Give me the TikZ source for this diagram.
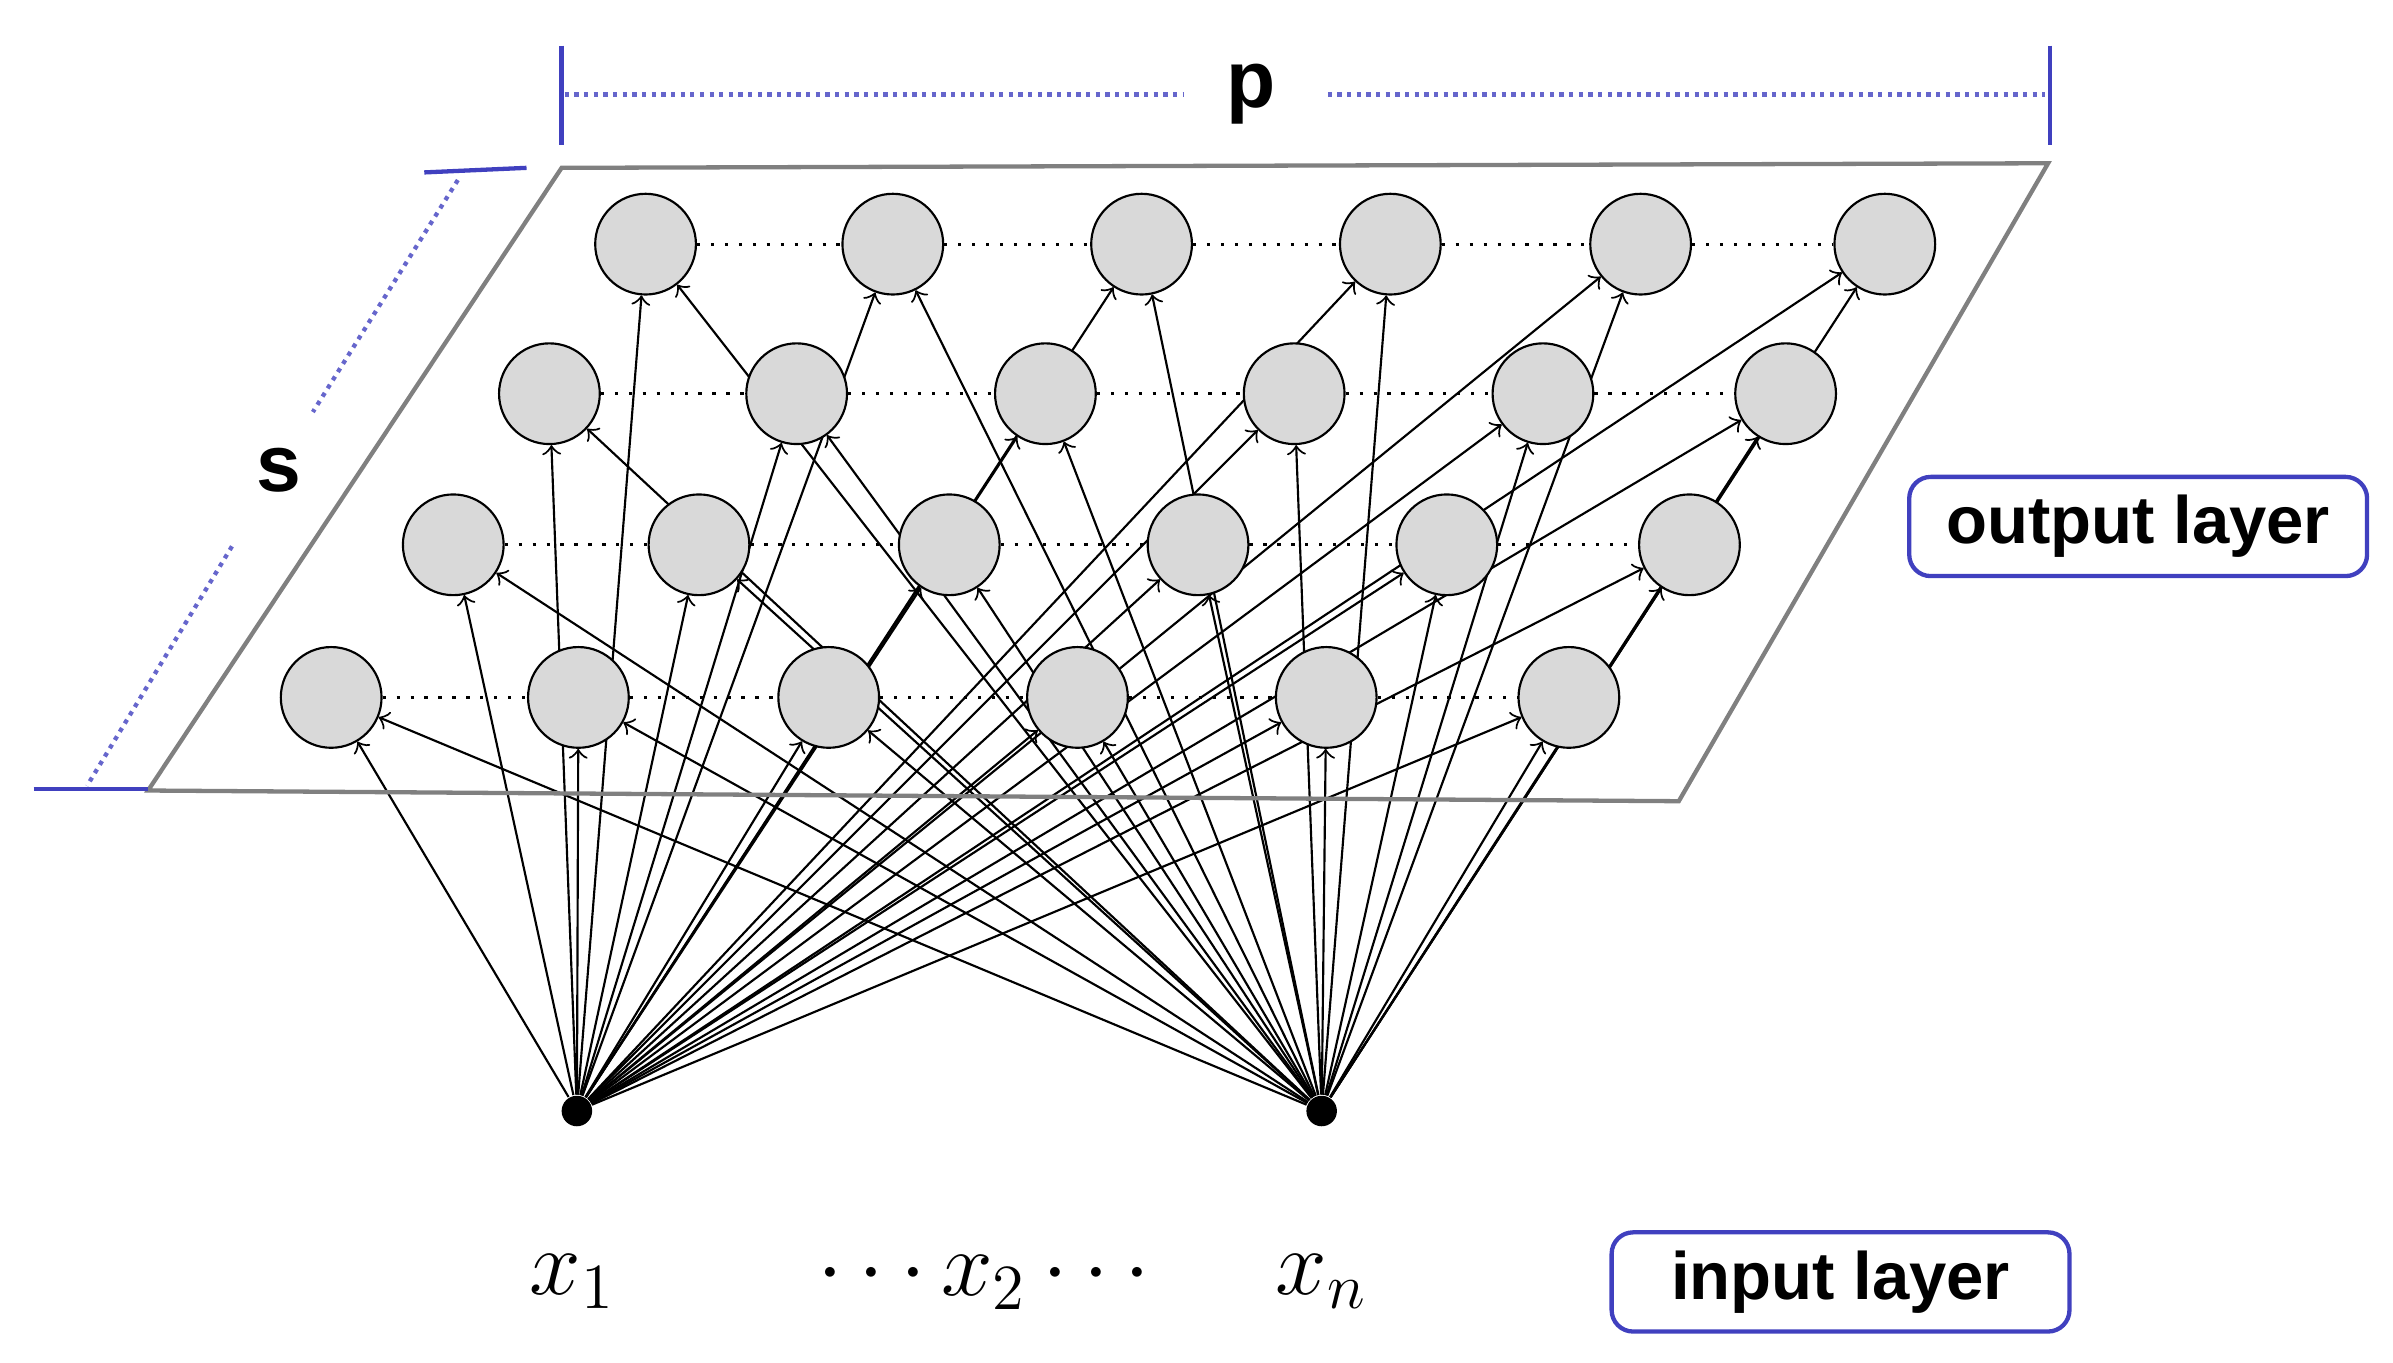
\documentclass[tikz,border=0pt]{standalone}
\usepackage{fontspec}
\setmainfont{Liberation Sans}
\usepackage{amsmath}
\usetikzlibrary{backgrounds}
\begin{document}
\begin{tikzpicture}[x=1cm,y=1cm,
	neuron/.style={circle, draw, fill=gray!30, minimum size=0.66cm, inner sep=0pt},
	inp/.style={circle, fill=black, minimum size=0.2cm, inner sep=0pt},
	lbox/.style={draw=blue!50!gray, rounded corners=4pt, thick, minimum width=3cm, minimum height=0.65cm, font=\bfseries\fontsize{12.5}{14}\selectfont},
	dim/.style={blue!50!gray!80, densely dotted, thick}]
	\useasboundingbox (0,0) rectangle (15.68,8.93);
	% plane
	\draw[gray, thick] (3.68,7.83)--(13.42,7.86)--(11.00,3.68)--(0.97,3.75)--cycle;
	% neurons, row by row
	\foreach \r/\y/\xs in {1/7.33/{4.23,5.85,7.48,9.11,10.75,12.35},
		2/6.35/{3.60,5.22,6.85,8.48,10.11,11.70},
		3/5.36/{2.97,4.58,6.22,7.85,9.48,11.07},
		4/4.36/{2.17,3.79,5.43,7.06,8.69,10.28}}{
		\foreach \x [count=\c] in \xs
			\node[neuron] (n-\r-\c) at (\x,\y) {};
	}
	% inputs
	\node[inp] (x1) at (3.78,1.65) {};
	\node[inp] (xn) at (8.66,1.65) {};
	\begin{scope}[on background layer]
	\foreach \r in {1,...,4}
		\foreach \a/\b in {1/2,2/3,3/4,4/5,5/6}
			\draw[dotted, semithick] (n-\r-\a) -- (n-\r-\b);
	\foreach \r in {1,...,4}
		\foreach \c in {1,...,6}{
			\draw[->, thin] (x1) -- (n-\r-\c);
			\draw[->, thin] (xn) -- (n-\r-\c);
		}
	\end{scope}
	\node (l1) at (3.75,0.53) {\fontsize{18}{20}\selectfont$x_1$};
	\node (l2) at (6.5,0.53) {\fontsize{18}{20}\selectfont$\cdots x_2\cdots$};
	\node (ln) at (8.66,0.53) {\fontsize{18}{20}\selectfont$x_n$};
	% labels
	\node[lbox] (out) at (14.01,5.48) {output layer};
	\node[lbox] (in) at (12.06,0.53) {input layer};
	% p dimension
	\draw[blue!50!gray, thick] (3.68,8.63)--(3.68,7.98);
	\draw[blue!50!gray, thick] (13.43,8.63)--(13.43,7.98);
	\node[font=\bfseries\fontsize{15}{17}\selectfont] (p) at (8.2,8.31) {p};
	\draw[dim] (3.70,8.31)--(7.75,8.31);
	\draw[dim] (8.70,8.31)--(13.40,8.31);
	% s dimension
	\draw[blue!50!gray, thick] (2.78,7.80)--(3.45,7.83);
	\draw[blue!50!gray, thick] (0.22,3.76)--(0.97,3.76);
	\node[font=\bfseries\fontsize{15}{17}\selectfont] (s) at (1.83,5.85) {s};
	\draw[dim] (3.00,7.75)--(2.05,6.23);
	\draw[dim] (1.52,5.35)--(0.57,3.78);
\end{tikzpicture}
\end{document}
